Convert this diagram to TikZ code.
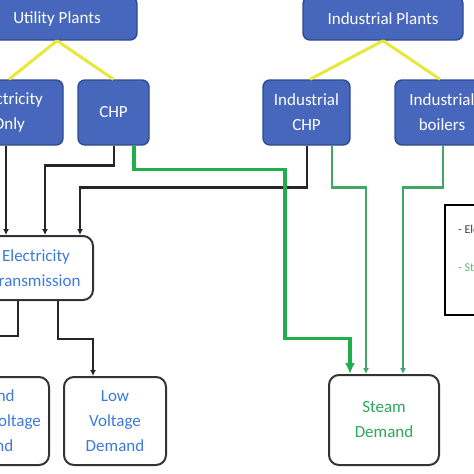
\documentclass[tikz,border=0pt]{standalone}
\usepackage{fontspec}
\setmainfont{Carlito}
\usetikzlibrary{arrows.meta,calc}
\definecolor{pfill}{HTML}{4767BD}
\definecolor{pdraw}{HTML}{2F4A8E}
\definecolor{ylw}{HTML}{E8E83C}
\definecolor{grnA}{HTML}{1FAE4C}
\definecolor{grnB}{HTML}{3FA866}
\definecolor{txtblue}{HTML}{3C7BDB}
\definecolor{txtgreen}{HTML}{2EA85A}
\definecolor{bord}{HTML}{333333}
\tikzset{
  plant/.style={draw=pdraw, line width=1.4pt, fill=pfill, rounded corners=7pt,
    text=white, align=center, inner sep=0pt,
    font=\fontsize{17}{25}\selectfont},
  demand/.style={draw=bord, line width=2pt, fill=white, rounded corners=10pt,
    align=center, inner sep=0pt, font=\fontsize{17}{25}\selectfont},
  yl/.style={draw=ylw, line width=3pt},
  blk/.style={draw=black!85, line width=2.6pt, -{Latex[length=6pt,width=6pt]}},
  gA/.style={draw=grnA, line width=3.2pt, -{Latex[length=11pt,width=10pt]}},
  gB/.style={draw=grnB, line width=2.8pt, -{Latex[length=6pt,width=6pt]}},
}
\begin{document}
\begin{tikzpicture}[x=1pt,y=-1pt]
\clip (0,0) rectangle (474,474);
\fill[white] (0,0) rectangle (474,474);
% top level
\node[plant, minimum width=160pt, minimum height=43pt] (up) at (57,18.5) {Utility Plants};
\node[plant, minimum width=160pt, minimum height=43pt] (ip) at (383,18.5) {Industrial Plants};
% plant types
\node[plant, minimum width=108pt, minimum height=65pt] (eo) at (9,112.5) {Electricity\\Only};
\node[plant, minimum width=71pt, minimum height=65pt] (chp) at (113.5,112.5) {CHP};
\node[plant, minimum width=87pt, minimum height=65pt] (ich) at (306.5,112.5) {Industrial\\CHP};
\node[plant, minimum width=94pt, minimum height=65pt] (bo) at (442,112.5) {Industrial\\boilers};
% yellow links
\draw[yl] (up.south) -- (eo.north);
\draw[yl] (up.south) -- (chp.north);
\draw[yl] (ip.south) -- ([xshift=3.5pt]ich.north);
\draw[yl] (ip.south) -- ([xshift=-2pt]bo.north);
% demand boxes
\node[demand, text=txtblue, minimum width=114pt, minimum height=64pt] (et) at (36,268) {Electricity\\Transmission};
\node[demand, text=txtblue, minimum width=130pt, minimum height=88pt] (hv) at (-16,421) {High and\\Medium Voltage\\Demand};
\node[demand, text=txtblue, minimum width=102pt, minimum height=88pt] (lv) at (115,421) {Low\\Voltage\\Demand};
\node[demand, text=txtgreen, minimum width=110pt, minimum height=90pt] (st) at (384,420) {Steam\\Demand};
% electricity connectors
\draw[blk] ([xshift=-3pt]eo.south) -- ([xshift=-3pt]eo.south |- et.north);
\draw[blk] ([xshift=0.5pt]chp.south) -- ++(0,20) -| ([xshift=9pt]et.north);
\draw[blk] ([xshift=0.5pt]ich.south) -- ++(0,42) -| ([xshift=44pt]et.north);
\draw[blk] ([xshift=-18pt]et.south) -- ++(0,35) -| ([xshift=-20pt]hv.north);
\draw[blk] ([xshift=22pt]et.south) -- ++(0,38) -| ([xshift=-22pt]lv.north);
% steam connectors
\draw[gA] ([xshift=20.5pt]chp.south) -- ++(0,24) -- ++(151,0) -- ++(0,169) -| ([xshift=-34pt]st.north);
\draw[gB] ([xshift=25.5pt]ich.south) -- ++(0,42) -| ([xshift=-18pt]st.north);
\draw[gB] ([xshift=1pt]bo.south) -- ++(0,42) -| ([xshift=19pt]st.north);
% legend
\node[draw=black, line width=2.8pt, minimum width=70pt, minimum height=110pt, inner sep=0pt] (lg) at (480,260) {};
\node[anchor=west, inner sep=0pt, text=black!75, font=\fontsize{12}{14}\selectfont] (le) at (458,230) {- Electricity};
\node[anchor=west, inner sep=0pt, text=txtgreen!80, font=\fontsize{12}{14}\selectfont] (ls) at (458,268) {- Steam};
\end{tikzpicture}
\end{document}
